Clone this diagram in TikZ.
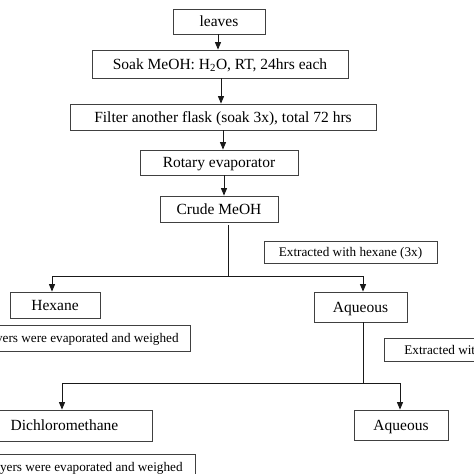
\documentclass[tikz,border=0pt]{standalone}
\usepackage{fontspec}
\setmainfont{Liberation Serif}
\usetikzlibrary{arrows.meta}
\tikzset{
  box/.style={draw=black!75, line width=0.8pt, rectangle, inner sep=0pt, text depth=0pt, font=\fontsize{15.5}{18}\selectfont, text=black},
  smallbox/.style={draw=black!75, line width=0.8pt, rectangle, inner ysep=0pt, text depth=0pt, font=\fontsize{13.2}{15}\selectfont, text=black},
  conn/.style={line width=1pt, black!90},
  arr/.style={conn, -{Triangle[width=6pt,length=7.5pt]}}
}
\begin{document}
\begin{tikzpicture}[x=1pt,y=-1pt]
\useasboundingbox (0,0) rectangle (474,474);
\clip (0,0) rectangle (474,474);
\node[box, minimum width=92pt, minimum height=25pt] (leaves) at (219,21.5) {leaves};
\node[box, minimum width=256pt, minimum height=28pt] (soak) at (220,64) {Soak MeOH: H\textsubscript{2}O, RT, 24hrs each};
\node[box, minimum width=306pt, minimum height=26pt] (filter) at (223,117) {Filter another flask (soak 3x), total 72 hrs};
\node[box, minimum width=158pt, minimum height=25pt] (rotary) at (219,162.5) {Rotary evaporator};
\node[box, minimum width=118pt, minimum height=26pt] (crude) at (219,209) {Crude MeOH};
\node[smallbox, minimum width=173pt, minimum height=22pt, inner xsep=0pt] (ext1) at (350.5,252) {Extracted with hexane (3x)};
\node[box, minimum width=90pt, minimum height=26pt] (hexane) at (55,305) {Hexane};
\node[box, minimum width=93pt, minimum height=30pt] (aq1) at (360.5,307) {Aqueous};
\node[smallbox, minimum height=26pt, inner xsep=12pt, anchor=east] (lay1) at (191,338) {layers were evaporated and weighed};
\node[smallbox, minimum height=23pt, inner xsep=20pt, anchor=west] (ext2) at (384,349.5) {Extracted with};
\node[box, minimum width=175pt, minimum height=31pt] (dcm) at (64.5,425.5) {Dichloromethane};
\node[box, minimum width=94pt, minimum height=30pt] (aq2) at (401,425) {Aqueous};
\node[smallbox, minimum height=26pt, inner xsep=13pt, anchor=east] (lay2) at (196,467) {layers were evaporated and weighed};

\draw[arr] ([xshift=-1pt]leaves.south) -- ([xshift=-1pt]leaves.south |- soak.north);
\draw[arr] ([xshift=1pt]soak.south) -- ([xshift=1pt]soak.south |- filter.north);
\draw[arr] (filter.south) -- (filter.south |- rotary.north);
\draw[arr] ([xshift=5pt]rotary.south) -- ([xshift=5pt]rotary.south |- crude.north);

\coordinate (c1) at ([xshift=9pt,yshift=-3pt]crude.south);
\coordinate (j1) at (c1 |- 0,276);
\coordinate (l1) at (52,276);
\coordinate (r1) at (363,276);
\draw[conn] (c1) -- (j1);
\draw[conn] (l1) -- (r1);
\draw[arr] (l1) -- (l1 |- hexane.north);
\draw[arr] (r1) -- (r1 |- aq1.north);

\coordinate (c2) at ([xshift=2.5pt]aq1.south);
\coordinate (j2) at (c2 |- 0,383);
\coordinate (l2) at (62,383);
\coordinate (r2) at (400,383);
\draw[conn] (c2) -- (j2);
\draw[conn] (l2) -- (r2);
\draw[arr] (l2) -- (l2 |- dcm.north);
\draw[arr] (r2) -- (r2 |- aq2.north);
\end{tikzpicture}
\end{document}
